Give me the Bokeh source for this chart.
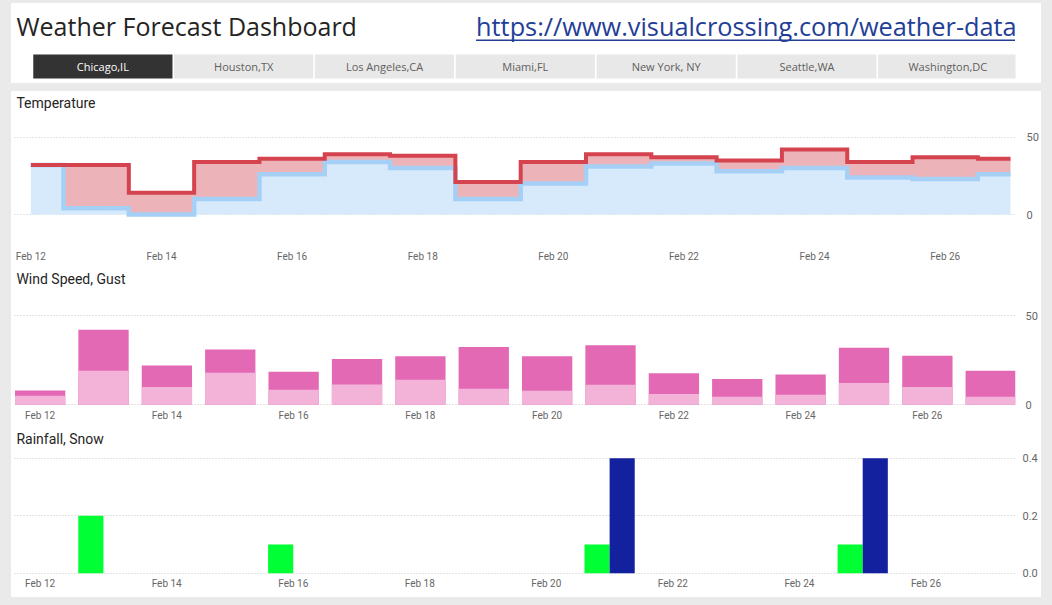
from bokeh.plotting import figure
from bokeh.layouts import column
from bokeh.models import Range1d, FixedTicker
from bokeh.core.properties import value
from bokeh.transform import dodge
from bokeh.embed import file_html
from bokeh.resources import INLINE

# ---------------- data ----------------
days = list(range(12, 28))
tick_days = list(range(12, 27, 2))
tick_labels = {d: f"Feb {d}" for d in tick_days}

temp_max = [32, 32, 14, 34, 36, 39, 38, 21, 34, 39, 37, 35, 42, 34, 37, 36]
temp_min = [32, 4, 0, 10, 26, 34, 30, 10, 20, 31, 33, 28, 30, 24, 23, 26]

wind_gust = [8, 42, 22, 31, 18.5, 25.7, 27.2, 32.4, 27.2, 33.3, 17.6, 14.4, 17, 32, 27.5, 19.1]
wind_speed = [5, 19, 10, 18, 8.4, 11.4, 14, 9, 7.9, 11.2, 6, 4.5, 5.6, 12.2, 9.9, 4.5]

rain = [0, 0.2, 0, 0, 0.1, 0, 0, 0, 0, 0.1, 0, 0, 0, 0.1, 0, 0]
snow = [0, 0, 0, 0, 0, 0, 0, 0, 0, 0.4, 0, 0, 0, 0.4, 0, 0]

cities = ["Chicago,IL", "Houston,TX", "Los Angeles,CA", "Miami,FL",
          "New York, NY", "Seattle,WA", "Washington,DC"]
selected_city = 0
dash_title = "Weather Forecast Dashboard"
url_text = "https://www.visualcrossing.com/weather-data"

PAGE_BG = "#EAEAEA"
TXT = "#252423"
LBL = "#666666"
GRID = "#C8C8C8"

BL, BR = 3, 24          # common left/right borders (column aligns frames)
FIG_W = 1030
FRAME_L_ABS = 11 + BL   # absolute x of frame left edge
FRAME_R_ABS = 11 + FIG_W - BR
WHITE_CSS = {"background-color": "white"}

# ---------------- header ----------------
hdr = figure(width=FIG_W, height=80, x_range=Range1d(BL, FIG_W - BR), y_range=Range1d(80, 0),
             toolbar_location=None, output_backend="svg",
             x_axis_location=None, y_axis_location=None,
             min_border_left=BL, min_border_right=BR, min_border_top=0, min_border_bottom=0)
hdr.grid.visible = False
hdr.outline_line_color = None
hdr.background_fill_color = "white"
hdr.border_fill_color = "white"
hdr.styles = WHITE_CSS

hdr.text(x=[5], y=[22.5], text=[dash_title], text_font=value("Open Sans"),
         text_font_size="25px", text_color=TXT, text_baseline="alphabetic")
url_x = 465.5
url_w = 540
hdr.text(x=[url_x], y=[22.5], text=[url_text], text_font=value("Open Sans"),
         text_font_size="25.3px", text_color="#233E96", text_baseline="alphabetic")
hdr.segment(x0=[url_x], y0=[36.8], x1=[url_x + url_w], y1=[36.8], line_color="#233E96", line_width=1.5)

tab_pitch = 141.1
tab_w = 139.5
tab_left = 21.8
tab_x = [tab_left + tab_w / 2 + i * tab_pitch for i in range(len(cities))]
tab_fill = ["#333333" if i == selected_city else "#E8E8E8" for i in range(len(cities))]
tab_txt = ["#FFFFFF" if i == selected_city else "#605E5C" for i in range(len(cities))]
hdr.rect(x=tab_x, y=[63] * len(cities), width=tab_w, height=24,
         fill_color=tab_fill, line_color=None)
hdr.text(x=tab_x, y=[63] * len(cities), text=cities, text_font=value("Open Sans"),
         text_font_size="11px", text_color=tab_txt, text_align="center", text_baseline="middle")


def chart(top_abs, height, bb, x0_abs, px_day, g_hi_abs, g_hi_val, g_lo_abs, g_lo_val,
          title, title_base_abs, yticks, xstand, ystand):
    """Frame spans from the figure top to `bb` px above its bottom."""
    pu = (g_lo_abs - g_hi_abs) / (g_hi_val - g_lo_val)           # px per unit
    y_at = lambda a: g_lo_val + (g_lo_abs - a) / pu
    x_at = lambda a: 12 + (a - x0_abs) / px_day
    p = figure(width=FIG_W, height=height,
               x_range=Range1d(x_at(FRAME_L_ABS), x_at(FRAME_R_ABS)),
               y_range=Range1d(y_at(top_abs + height - bb), y_at(top_abs)),
               toolbar_location=None, output_backend="svg", y_axis_location="right",
               min_border_left=BL, min_border_right=BR, min_border_top=0, min_border_bottom=bb)
    p.background_fill_color = "white"
    p.border_fill_color = "white"
    p.outline_line_color = None
    p.styles = WHITE_CSS
    p.xgrid.visible = False
    p.ygrid.grid_line_color = GRID
    p.ygrid.grid_line_dash = "1 2"
    p.xaxis.ticker = FixedTicker(ticks=tick_days)
    p.xaxis.major_label_overrides = tick_labels
    p.yaxis.ticker = FixedTicker(ticks=yticks)
    for ax in (p.xaxis, p.yaxis):
        ax.axis_line_color = None
        ax.major_tick_line_color = None
        ax.minor_tick_line_color = None
        ax.major_tick_out = 0
        ax.major_tick_in = 0
        ax.major_label_text_color = LBL
        ax.major_label_text_font = "Roboto"
    p.xaxis.major_label_text_font_size = "10px"
    p.yaxis.major_label_text_font_size = "11px"
    p.xaxis.major_label_standoff = xstand
    p.yaxis.major_label_standoff = ystand
    p.text(x=[x_at(15.9)], y=[y_at(title_base_abs - 4.5)], text=[title], text_font=value("Roboto"),
           text_font_size="14px", text_color=TXT, text_baseline="alphabetic")
    return p


# ---------------- temperature ----------------
pt = chart(91, 177, 27, 30.4, 65.44, 136.7, 50, 214.0, 0, "Temperature", 106.7, [0, 50], 9, 11)
pt.varea_step(x=days, y1=0, y2=temp_min, step_mode="center", fill_color="#D6EAFC")
pt.varea_step(x=days, y1=temp_min, y2=temp_max, step_mode="center", fill_color="#ECB4B8")
pt.step(x=days, y=temp_min, mode="center", line_color="#A5CFF5", line_width=4.5, line_join="miter")
pt.step(x=days, y=temp_max, mode="center", line_color="#D5434F", line_width=4, line_join="miter")

# ---------------- wind ----------------
pw = chart(268, 162, 25, 39.7, 63.5, 315.0, 50, 404.3, 0, "Wind Speed, Gust", 282.7, [0, 50], 4, 10)
pw.vbar(x=days, top=wind_gust, width=0.794, bottom=0, fill_color="#E469B4", line_color=None)
pw.vbar(x=days, top=wind_speed, width=0.794, bottom=0, fill_color="#F3B3D8", line_color=None)

# ---------------- rain / snow ----------------
pr = chart(430, 167, 22, 39.7, 63.4, 457.7, 0.4, 572.7, 0, "Rainfall, Snow", 442.7, [0, 0.2, 0.4], 2, 7)
pr.yaxis.major_label_overrides = {0: "0.0", 0.2: "0.2", 0.4: "0.4"}
pr.vbar(x=dodge("x", -0.1985, range=pr.x_range), top="rain", width=0.397,
        source=dict(x=days, rain=rain), fill_color="#00FF33", line_color=None)
pr.vbar(x=dodge("x", 0.1985, range=pr.x_range), top="snow", width=0.397,
        source=dict(x=days, snow=snow), fill_color="#14219E", line_color=None)

hdr.margin = (3, 11, 8, 11)
pt.margin = (0, 11, 0, 11)
pw.margin = (0, 11, 0, 11)
pr.margin = (0, 11, 8, 11)

p = column(hdr, pt, pw, pr, spacing=0, width=1052, height=605,
           styles={"background-color": PAGE_BG})

open("out.html", "w").write(file_html(p, INLINE))
